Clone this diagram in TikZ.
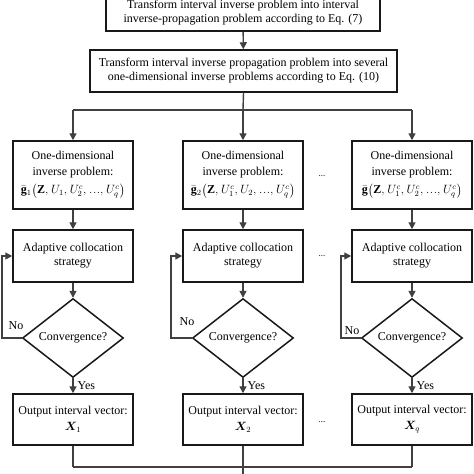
\documentclass[tikz,border=0pt]{standalone}
\usepackage{amsmath,bm}
\usepackage{fontspec}
\setmainfont{Liberation Serif}
\usetikzlibrary{shapes.geometric,arrows.meta}
\newcommand{\cm}{,\mkern1mu}
\newcommand{\dts}{.\mkern1mu.\mkern1mu.}
\begin{document}
\begin{tikzpicture}[x=1pt,y=-1pt,
  font=\fontsize{12}{14}\selectfont,
  box/.style={draw=black!90, line width=1.5pt, inner sep=0pt, align=center, fill=white},
  dec/.style={draw=black!90, line width=1.5pt, shape=diamond, inner sep=0pt,
              minimum width=101pt, minimum height=50pt, fill=white},
  conn/.style={draw=black!75, line width=1.4pt},
  arr/.style={conn, -{Triangle[length=7pt,width=7pt]}},
  lbl/.style={inner sep=0pt}]
\useasboundingbox (0,0) rectangle (474,474);
\clip (0,0) rectangle (474,474);

% top boxes
\node[box, minimum width=274pt, minimum height=36pt] (t1) at (243,13)
  {Transform interval inverse problem into interval\\inverse-propagation problem according to Eq. (7)};
\node[box, minimum width=307pt, minimum height=42pt] (t2) at (243.5,71)
  {Transform interval inverse propagation problem into several\\one-dimensional inverse problems according to Eq. (10)};
\draw[arr] (t1) -- (t2);

\coordinate (split) at (243,110);
\coordinate (sl) at (73,110);
\coordinate (sr) at (412,110);
\draw[conn] (t2.south) -- (split);
\draw[conn] (sl) -- (sr);

% columns
\foreach \i/\x/\f/\yy/\nx/\ny/\lx in {
  1/73/{\bar{\mathbf{g}}_{1}\bigl(\mathbf{Z}\cm U_{1}\cm U_{2}^{c}\cm \dts\cm U_{q}^{c}\bigr)}/{\bm{X}_{1}}/16/326/2,
  2/243/{\bar{\mathbf{g}}_{2}\bigl(\mathbf{Z}\cm U_{1}^{c}\cm U_{2}\cm \dts\cm U_{q}^{c}\bigr)}/{\bm{X}_{2}}/187/322/171,
  3/412/{\bar{\mathbf{g}}\bigl(\mathbf{Z}\cm U_{1}^{c}\cm U_{2}^{c}\cm \dts\cm U_{q}^{c}\bigr)}/{\bm{X}_{q}}/352/331/341}{
  \node[box, minimum width=120pt, minimum height=68pt] (g\i) at (\x,175)
    {One-dimensional\\[2pt]inverse problem:\\[4pt]$\f$};
  \node[box, minimum width=120pt, minimum height=52pt] (a\i) at (\x,256)
    {Adaptive collocation\\strategy};
  \node[dec] (d\i) at (\x,338) {Convergence?};
  \node[box, minimum width=120pt, minimum height=51pt] (o\i) at (\x,419.5)
    {Output interval vector:\\[2pt]$\yy$};
  \coordinate (top\i) at (\x,110);
  \coordinate (bot\i) at (\x,467);
  \coordinate (lpA\i) at (\lx,338);
  \coordinate (lpB\i) at (\lx,256);
  \draw[arr] (top\i) -- (g\i);
  \draw[arr] (g\i) -- (a\i);
  \draw[arr] (a\i) -- (d\i);
  \draw[arr] (d\i) -- node[lbl, right=4pt] {Yes} (o\i);
  \draw[arr] (d\i.west) -- (lpA\i) -- (lpB\i) -- (a\i.west);
  \node[lbl] (no\i) at (\nx,\ny) {No};
  \draw[conn] (o\i) -- (bot\i);
}
\coordinate (bl) at (73,467);
\coordinate (br) at (412,467);
\coordinate (bc) at (243,467);
\coordinate (bend) at (243,480);
\draw[conn] (bl) -- (br);
\draw[conn] (bc) -- (bend);

% ellipses
\node[lbl, font=\fontsize{9}{9}\selectfont] (e1) at (322,176) {...};
\node[lbl, font=\fontsize{9}{9}\selectfont] (e2) at (322,256) {...};
\node[lbl, font=\fontsize{9}{9}\selectfont] (e3) at (322,422) {...};
\end{tikzpicture}
\end{document}
